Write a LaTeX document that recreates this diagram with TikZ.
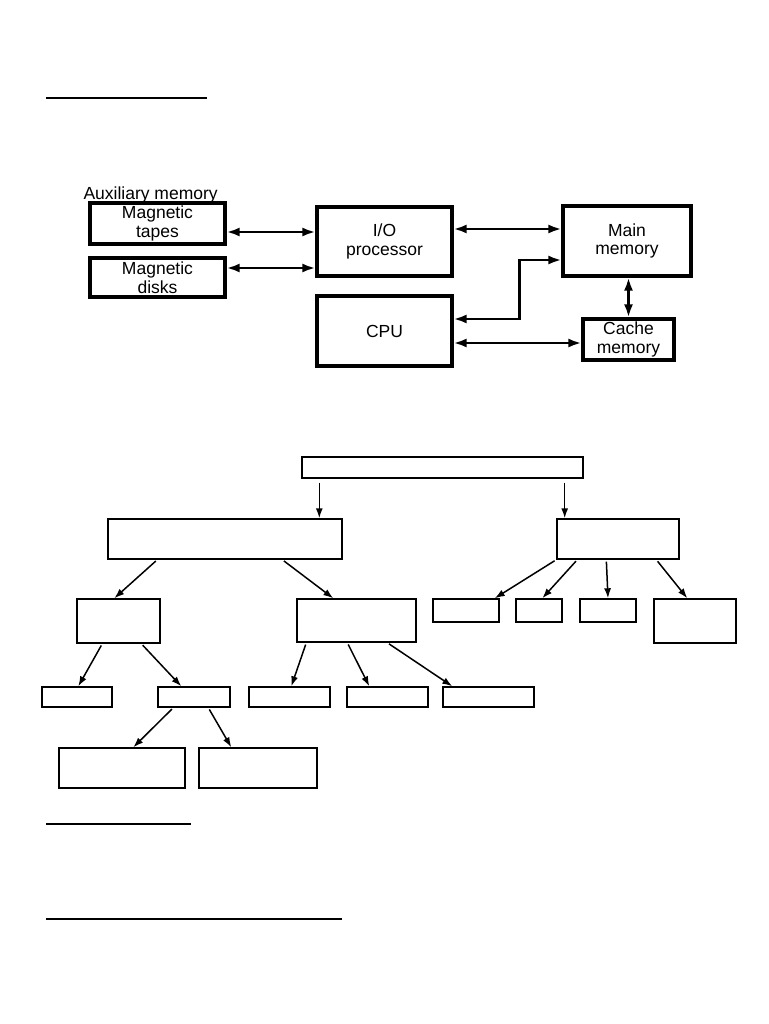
\documentclass[tikz,border=0pt]{standalone}
\usepackage{fontspec}
\setmainfont{Liberation Sans}
\usepackage{xcolor}
\usetikzlibrary{calc,arrows.meta}
\definecolor{ink}{HTML}{000000}
\tikzset{
  unit/.style={draw=ink, line width=3.2pt, inner sep=0pt, align=center,
    font=\fontsize{17.5}{18.5}\selectfont},
  leaf/.style={draw=ink, line width=1.4pt, inner sep=0pt},
  link/.style={draw=ink, line width=2.5pt, {Latex[length=13pt,width=9pt]}-{Latex[length=13pt,width=9pt]}},
  tree/.style={draw=ink, line width=1.5pt, -{Latex[length=10pt,width=7pt]}, shorten <=2pt},
  rule/.style={draw=ink, line width=2.4pt},
  lab/.style={text=ink, font=\fontsize{17.5}{18.5}\selectfont},
}
\begin{document}
\begin{tikzpicture}[x=1pt,y=-1pt]
  \useasboundingbox (0,0) rectangle (768,1024);

  % memory hierarchy
  \node[lab,anchor=base west] (aux) at (80,200) {Auxiliary memory};
  \node[unit,minimum width=135,minimum height=41] (tapes) at (157.5,223.5) {Magnetic\\tapes};
  \node[unit,minimum width=135,minimum height=39] (disks) at (157.5,277.5) {Magnetic\\disks};
  \node[unit,minimum width=135,minimum height=69] (io) at (384.5,241.5) {I/O\\processor};
  \node[unit,minimum width=135,minimum height=70] (cpu) at (384.5,331) {CPU};
  \node[unit,minimum width=128,minimum height=70] (main) at (627,241) {Main\\memory};
  \node[unit,minimum width=91,minimum height=41] (cache) at (628.5,339.5) {Cache\\memory};

  \draw[link] ([yshift=-8.5pt]tapes.east) -- ([yshift=-8.5pt]tapes.east -| io.west);
  \draw[link] ([yshift=9.5pt]disks.east) -- ([yshift=9.5pt]disks.east -| io.west);
  \draw[link] ([yshift=12.5pt]io.east) -- ([yshift=12.5pt]io.east -| main.west);
  \draw[link] ([yshift=12pt]cpu.east) -- ++(66,0) |- ([yshift=-19pt]main.west);
  \draw[link] ([yshift=-12pt]cpu.east) -- ([yshift=-12pt]cpu.east -| cache.west);
  \draw[link] (cache.north |- main.south) -- (cache.north);

  % empty tree
  \node[leaf,minimum width=281,minimum height=21] (root) at (442.5,467.5) {};
  \node[leaf,minimum width=234,minimum height=40] (left) at (225,539) {};
  \node[leaf,minimum width=122,minimum height=40] (right) at (618,539) {};
  \node[leaf,minimum width=83,minimum height=44] (la) at (118.5,621) {};
  \node[leaf,minimum width=119,minimum height=43] (lb) at (356.5,620.5) {};
  \node[leaf,minimum width=66,minimum height=23] (r1) at (466,610.5) {};
  \node[leaf,minimum width=46,minimum height=23] (r2) at (539,610.5) {};
  \node[leaf,minimum width=56,minimum height=23] (r3) at (608,610.5) {};
  \node[leaf,minimum width=82,minimum height=44] (r4) at (695,621) {};
  \node[leaf,minimum width=70,minimum height=20] (a1) at (77,697) {};
  \node[leaf,minimum width=72,minimum height=20] (a2) at (194,697) {};
  \node[leaf,minimum width=81,minimum height=20] (b1) at (289.5,697) {};
  \node[leaf,minimum width=81,minimum height=20] (b2) at (387.5,697) {};
  \node[leaf,minimum width=91,minimum height=20] (b3) at (488.5,697) {};
  \node[leaf,minimum width=126,minimum height=40] (c1) at (122,768) {};
  \node[leaf,minimum width=118,minimum height=40] (c2) at (258,768) {};

  \draw[tree,shorten <=4pt] ([xshift=18pt]root.south west) -- ([xshift=18pt]root.south west |- left.north);
  \draw[tree,shorten <=4pt] ([xshift=-19pt]root.south east) -- ([xshift=-19pt]root.south east |- right.north);
  \draw[tree] ([xshift=50pt]left.south west) -- ([xshift=38pt]la.north west);
  \draw[tree] ([xshift=175pt]left.south west) -- ([xshift=37pt]lb.north west);
  \draw[tree] (right.south west) -- ([xshift=-5pt]r1.north east);
  \draw[tree] ([xshift=21pt]right.south west) -- ([xshift=27pt]r2.north west);
  \draw[tree] ([xshift=50pt]right.south west) -- (r3.north);
  \draw[tree] ([xshift=100pt]right.south west) -- ([xshift=34pt]r4.north west);
  \draw[tree] ([xshift=26pt]la.south west) -- ([xshift=37pt]a1.north west);
  \draw[tree] ([xshift=65pt]la.south west) -- ([xshift=24pt]a2.north west);
  \draw[tree] ([xshift=10pt]lb.south west) -- ([xshift=43pt]b1.north west);
  \draw[tree] ([xshift=51pt]lb.south west) -- ([xshift=23pt]b2.north west);
  \draw[tree] ([xshift=91pt]lb.south west) -- ([xshift=10pt]b3.north west);
  \draw[tree] ([xshift=16pt]a2.south west) -- ([xshift=75pt]c1.north west);
  \draw[tree] ([xshift=51pt]a2.south west) -- ([xshift=33pt]c2.north west);

  % heading rules
  \draw[rule] (46,98) -- (207,98);
  \draw[rule] (46,824) -- (191,824);
  \draw[rule] (46,919) -- (342,919);
\end{tikzpicture}
\end{document}
